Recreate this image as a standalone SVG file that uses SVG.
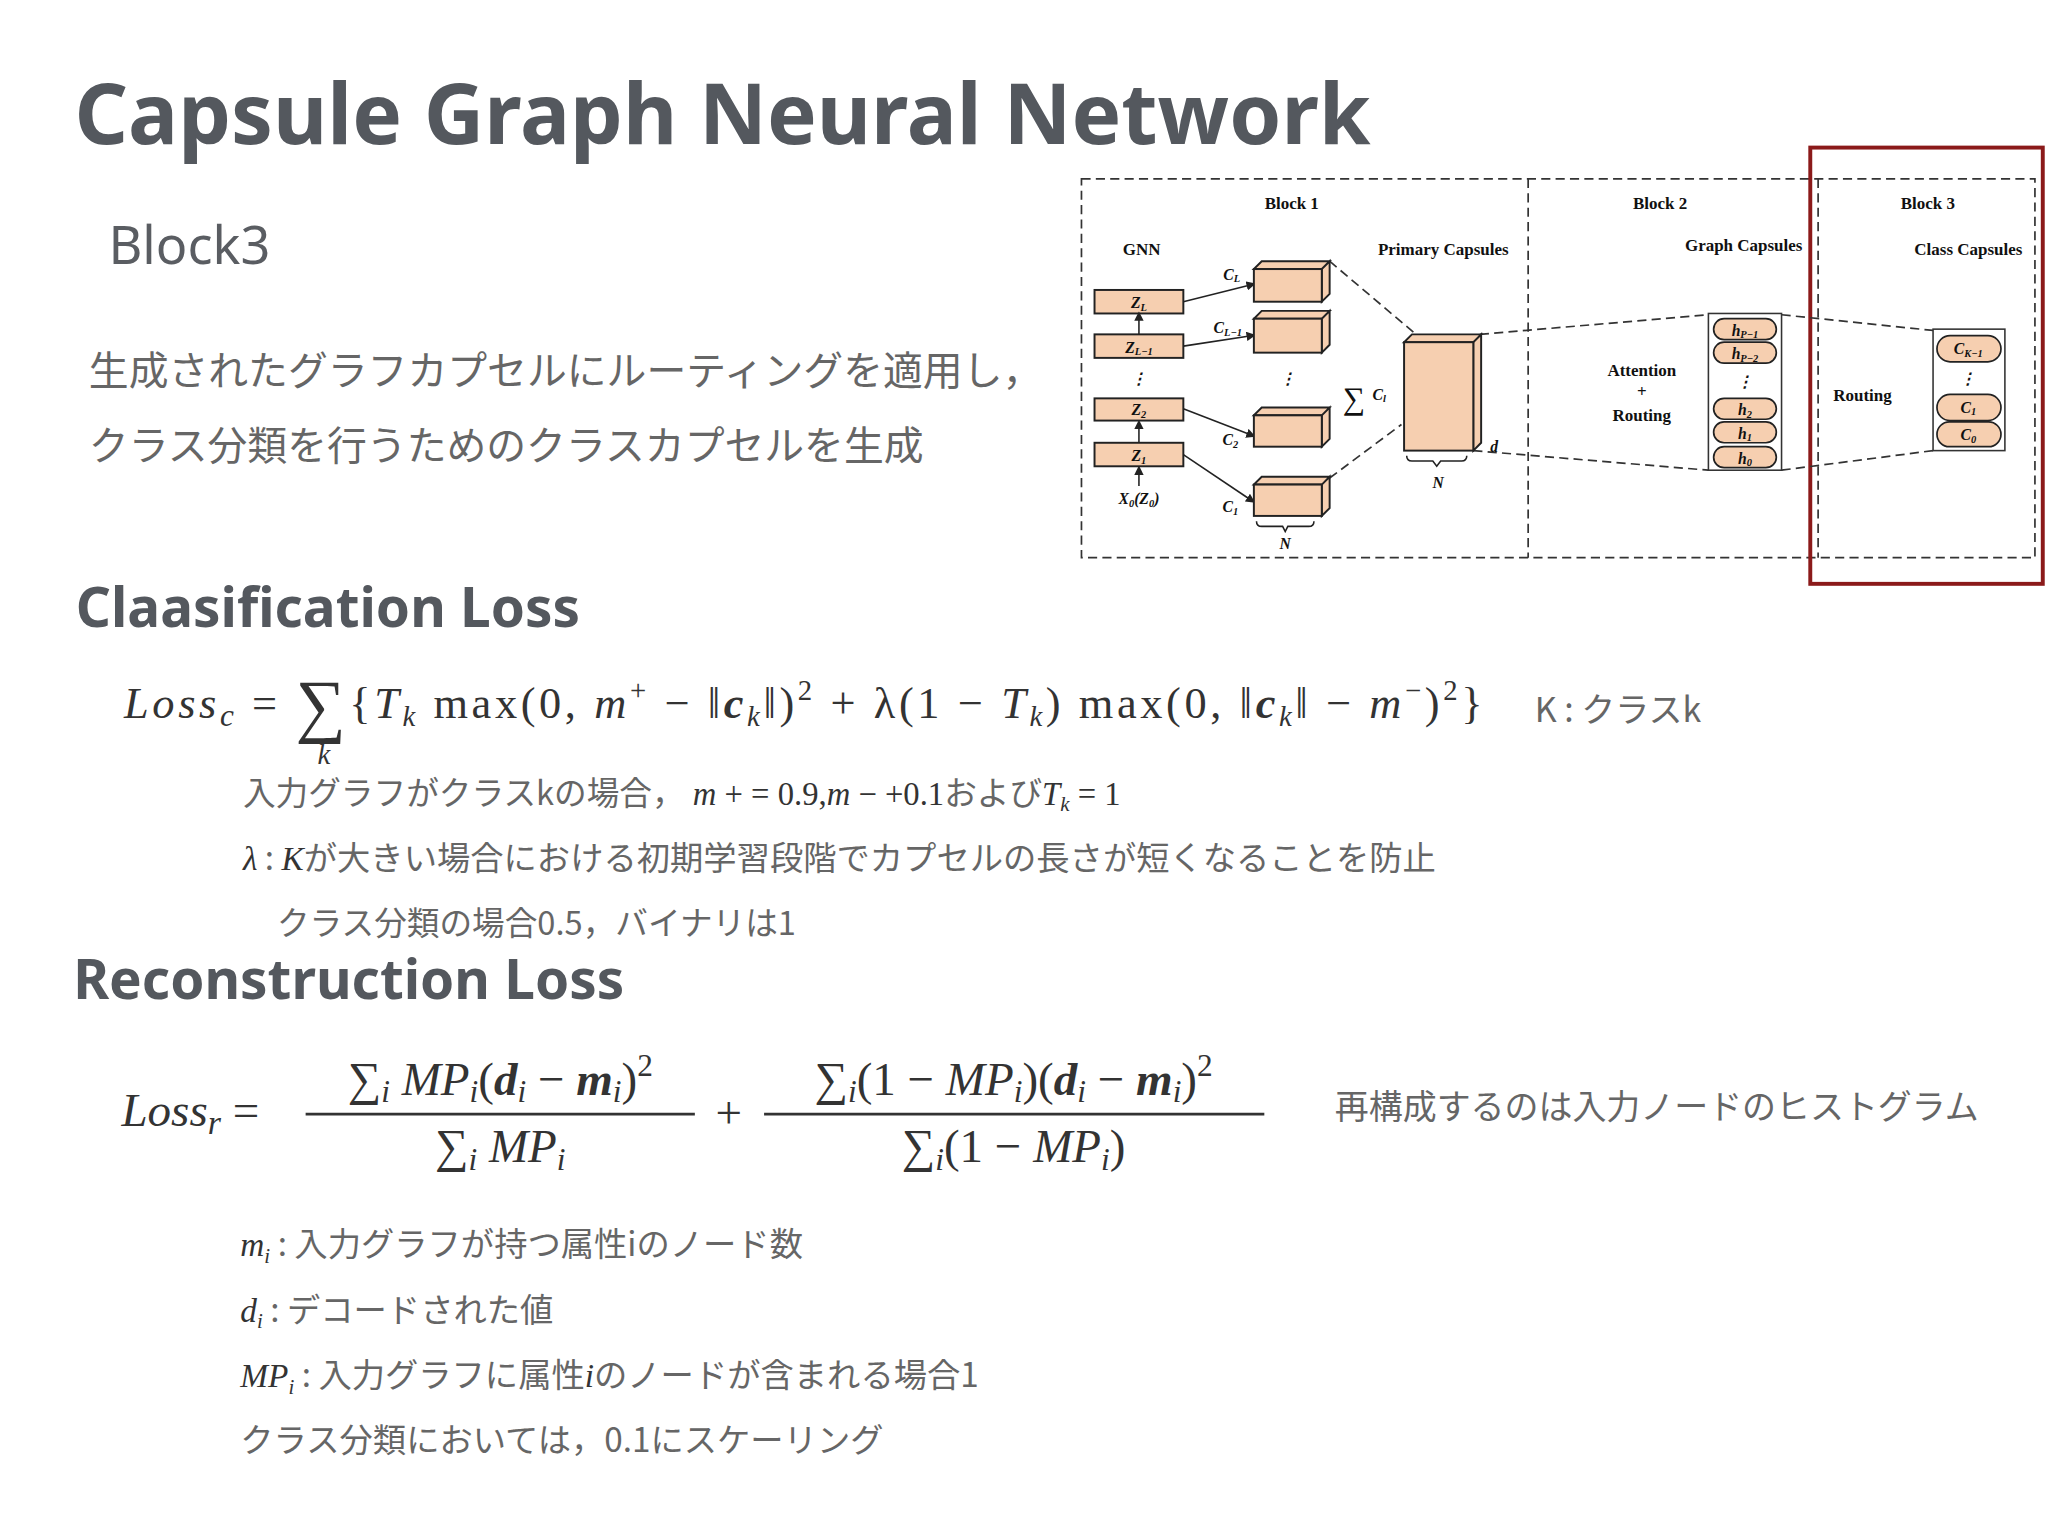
<svg xmlns="http://www.w3.org/2000/svg" width="2048" height="1536" viewBox="0 0 2048 1536">
<style>
.t{font-family:"Noto Sans","Noto Sans CJK JP",sans-serif;fill:#5a5d62}
.h{font-family:"Noto Sans","Noto Sans CJK JP",sans-serif;font-weight:bold;fill:#54585e}
.j{font-family:"Noto Sans CJK JP",sans-serif;fill:#666}
.m{font-family:"Liberation Serif",serif;fill:#333}
.s{font-family:"Liberation Serif",serif;font-weight:bold;font-size:13px;fill:#111}
.si{font-family:"Liberation Serif",serif;font-weight:bold;font-style:italic;font-size:12px;fill:#111;text-anchor:middle}
.dash{fill:none;stroke:#333;stroke-width:1.3;stroke-dasharray:7 4}
.box{fill:#f6cfb0;stroke:#222;stroke-width:1.5}
.ln{stroke:#222;stroke-width:1.2;fill:none}
.pill{fill:#f6cfb0;stroke:#222;stroke-width:1.3}
</style>
<defs><marker id="ar" markerWidth="6" markerHeight="6" refX="3" refY="3" orient="auto"><path d="M0,0L6,3L0,6z" fill="#222"/></marker></defs>
<rect width="2048" height="1536" fill="#fff"/>
<g transform="scale(1.30612)">
<text class="h" x="57" y="110" font-size="64">Capsule Graph Neural Network</text>
<text class="t" x="83" y="202" font-size="40">Block3</text>
<text class="j" x="68" y="295" font-size="30.5">生成されたグラフカプセルにルーティングを適用し，</text>
<text class="j" x="68" y="352" font-size="30.5">クラス分類を行うためのクラスカプセルを生成</text>

<g id="frame">
<rect class="dash" x="828" y="137" width="730" height="290"/>
<line class="dash" x1="1170" y1="137" x2="1170" y2="427"/>
<line class="dash" x1="1392" y1="137" x2="1392" y2="427"/>
<rect x="1386" y="113" width="178" height="334" fill="none" stroke="#8b1a1a" stroke-width="3"/>
<text class="s" x="989" y="160" text-anchor="middle">Block 1</text>
<text class="s" x="1271" y="160" text-anchor="middle">Block 2</text>
<text class="s" x="1476" y="160" text-anchor="middle">Block 3</text>
<text class="s" x="874" y="195" text-anchor="middle">GNN</text>
<text class="s" x="1105" y="195" text-anchor="middle">Primary Capsules</text>
<text class="s" x="1335" y="192" text-anchor="middle">Graph Capsules</text>
<text class="s" x="1507" y="195" text-anchor="middle">Class Capsules</text>
<text class="s" x="1257" y="288" text-anchor="middle">Attention</text>
<text class="s" x="1257" y="304" text-anchor="middle">+</text>
<text class="s" x="1257" y="322" text-anchor="middle">Routing</text>
<text class="s" x="1426" y="307" text-anchor="middle">Routing</text>
</g>
<g id="gnn">
<rect class="box" x="838" y="222" width="68" height="18"/><text class="si" x="872" y="236">Z<tspan font-size="8" dy="2">L</tspan></text>
<rect class="box" x="838" y="256" width="68" height="18"/><text class="si" x="872" y="270">Z<tspan font-size="8" dy="2">L−1</tspan></text>
<text class="si" x="872" y="294">⋮</text>
<rect class="box" x="838" y="305" width="68" height="17"/><text class="si" x="872" y="318">Z<tspan font-size="8" dy="2">2</tspan></text>
<rect class="box" x="838" y="339" width="68" height="18"/><text class="si" x="872" y="353">Z<tspan font-size="8" dy="2">1</tspan></text>
<text class="si" x="872" y="386">X<tspan font-size="8" dy="2">0</tspan><tspan dy="-2">(Z</tspan><tspan font-size="8" dy="2">0</tspan><tspan dy="-2">)</tspan></text>
</g>
<g id="connectors">
<line class="ln" x1="872" y1="256" x2="872" y2="242" marker-end="url(#ar)"/>
<line class="ln" x1="872" y1="339" x2="872" y2="325" marker-end="url(#ar)"/>
<line class="ln" x1="872" y1="372" x2="872" y2="360" marker-end="url(#ar)"/>
<line class="ln" x1="906" y1="231" x2="958" y2="218" marker-end="url(#ar)"/>
<line class="ln" x1="906" y1="265" x2="958" y2="257" marker-end="url(#ar)"/>
<line class="ln" x1="906" y1="313" x2="958" y2="333" marker-end="url(#ar)"/>
<line class="ln" x1="906" y1="348" x2="958" y2="383" marker-end="url(#ar)"/>
<line class="dash" x1="1018" y1="200" x2="1083" y2="255"/>
<line class="dash" x1="1018" y1="366" x2="1073" y2="325"/>
<line class="dash" x1="1133" y1="256" x2="1308" y2="241"/>
<line class="dash" x1="1128" y1="345" x2="1308" y2="360"/>
<line class="dash" x1="1364" y1="241" x2="1480" y2="253"/>
<line class="dash" x1="1364" y1="360" x2="1480" y2="345"/>
</g>
<g id="primary">
<g id="capL"><path class="box" d="M960,206h52l6,-6h-52z M1012,206l6,-6v25l-6,6z"/><rect class="box" x="960" y="206" width="52" height="25"/><text class="si" x="943" y="214">C<tspan font-size="8" dy="2">L</tspan></text></g>
<g id="capL1"><path class="box" d="M960,244h52l6,-6h-52z M1012,244l6,-6v26l-6,6z"/><rect class="box" x="960" y="244" width="52" height="26"/><text class="si" x="940" y="255">C<tspan font-size="8" dy="2">L−1</tspan></text></g>
<text class="si" x="986" y="294">⋮</text>
<g id="cap2"><path class="box" d="M960,318h52l6,-6h-52z M1012,318l6,-6v24l-6,6z"/><rect class="box" x="960" y="318" width="52" height="24"/><text class="si" x="942" y="341">C<tspan font-size="8" dy="2">2</tspan></text></g>
<g id="cap1"><path class="box" d="M960,371h52l6,-6h-52z M1012,371l6,-6v24l-6,6z"/><rect class="box" x="960" y="371" width="52" height="24"/><text class="si" x="942" y="392">C<tspan font-size="8" dy="2">1</tspan></text></g>
<path class="ln" d="M962,399q0,4 4,4h16l2,4l2,-4h16q4,0 4,-4"/>
<text class="si" x="984" y="420">N</text>
<g id="bigcap"><path class="box" d="M1075,262h53l6,-6h-53z M1128,262l6,-6v83l-6,6z"/><rect class="box" x="1075" y="262" width="53" height="83"/></g>
<text x="1028" y="313" font-family="Liberation Serif,serif" font-size="24" fill="#111">∑</text>
<text class="si" x="1056" y="306">C<tspan font-size="8" dy="2">l</tspan></text>
<text class="si" x="1144" y="346">d</text>
<path class="ln" d="M1077,349q0,4 4,4h16l3,4l3,-4h16q4,0 4,-4"/>
<text class="si" x="1101" y="374">N</text>
</g>
<g id="graphcaps">
<rect x="1308" y="240" width="56" height="120" fill="#fff" stroke="#333" stroke-width="1.2"/>
<rect class="pill" x="1312" y="244" width="48" height="16" rx="8"/><text class="si" x="1336" y="257">h<tspan font-size="8" dy="2">P−1</tspan></text>
<rect class="pill" x="1312" y="262" width="48" height="16" rx="8"/><text class="si" x="1336" y="275">h<tspan font-size="8" dy="2">P−2</tspan></text>
<text class="si" x="1336" y="296">⋮</text>
<rect class="pill" x="1312" y="305" width="48" height="16" rx="8"/><text class="si" x="1336" y="318">h<tspan font-size="8" dy="2">2</tspan></text>
<rect class="pill" x="1312" y="323" width="48" height="16" rx="8"/><text class="si" x="1336" y="336">h<tspan font-size="8" dy="2">1</tspan></text>
<rect class="pill" x="1312" y="342" width="48" height="16" rx="8"/><text class="si" x="1336" y="355">h<tspan font-size="8" dy="2">0</tspan></text>
</g>
<g id="classcaps">
<rect x="1480" y="252" width="55" height="93" fill="#fff" stroke="#333" stroke-width="1.2"/>
<rect class="pill" x="1483" y="257" width="49" height="20" rx="10"/><text class="si" x="1507" y="271">C<tspan font-size="8" dy="2">K−1</tspan></text>
<text class="si" x="1507" y="294">⋮</text>
<rect class="pill" x="1483" y="302" width="49" height="20" rx="10"/><text class="si" x="1507" y="316">C<tspan font-size="8" dy="2">1</tspan></text>
<rect class="pill" x="1483" y="323" width="49" height="19" rx="9.5"/><text class="si" x="1507" y="337">C<tspan font-size="8" dy="2">0</tspan></text>
</g>

<text class="h" x="58" y="480" font-size="42">Claasification Loss</text>
<text class="m" x="95" y="550" font-size="34" textLength="1040" lengthAdjust="spacing"><tspan font-style="italic">Loss</tspan><tspan font-style="italic" font-size="24" dy="6">c</tspan><tspan dy="-6"> = </tspan><tspan font-size="54" dy="8">∑</tspan><tspan dy="-8">{</tspan><tspan font-style="italic">T</tspan><tspan font-style="italic" font-size="22" dy="6">k</tspan><tspan dy="-6"> max(0, </tspan><tspan font-style="italic">m</tspan><tspan font-size="22" dy="-14">+</tspan><tspan dy="14"> − ‖</tspan><tspan font-style="italic" font-weight="bold">c</tspan><tspan font-style="italic" font-size="22" dy="6">k</tspan><tspan dy="-6">‖)</tspan><tspan font-size="22" dy="-14">2</tspan><tspan dy="14"> + λ(1 − </tspan><tspan font-style="italic">T</tspan><tspan font-style="italic" font-size="22" dy="6">k</tspan><tspan dy="-6">) max(0, ‖</tspan><tspan font-style="italic" font-weight="bold">c</tspan><tspan font-style="italic" font-size="22" dy="6">k</tspan><tspan dy="-6">‖ − </tspan><tspan font-style="italic">m</tspan><tspan font-size="22" dy="-14">−</tspan><tspan dy="14">)</tspan><tspan font-size="22" dy="-14">2</tspan><tspan dy="14">}</tspan></text>
<text class="m" x="243" y="585" font-size="22" font-style="italic">k</text>
<text class="j" x="1175" y="553" font-size="26">K : クラスk</text>
<text class="j" x="186" y="616" font-size="25">入力グラフがクラスkの場合，<tspan class="m" font-style="italic"> m</tspan><tspan class="m"> + = 0.9,</tspan><tspan class="m" font-style="italic">m</tspan><tspan class="m"> − +0.1</tspan>および<tspan class="m" font-style="italic">T</tspan><tspan class="m" font-style="italic" font-size="16" dy="5">k</tspan><tspan class="m" dy="-5"> = 1</tspan></text>
<text class="j" x="186" y="666" font-size="25.5"><tspan class="m" font-style="italic">λ</tspan> : <tspan class="m" font-style="italic">K</tspan>が大きい場合における初期学習段階でカプセルの長さが短くなることを防止</text>
<text class="j" x="212" y="716" font-size="25">クラス分類の場合0.5，バイナリは1</text>

<text class="h" x="56" y="765" font-size="42">Reconstruction Loss</text>
<text class="m" x="93" y="862" font-size="36"><tspan font-style="italic">Loss</tspan><tspan font-style="italic" font-size="26" dy="6">r</tspan><tspan dy="-6"> =</tspan></text>
<text class="m" x="383" y="838" font-size="36" text-anchor="middle">∑<tspan font-style="italic" font-size="24" dy="6">i</tspan><tspan font-style="italic" dy="-6"> MP</tspan><tspan font-style="italic" font-size="24" dy="6">i</tspan><tspan dy="-6">(</tspan><tspan font-weight="bold" font-style="italic">d</tspan><tspan font-style="italic" font-size="24" dy="6">i</tspan><tspan dy="-6"> − </tspan><tspan font-weight="bold" font-style="italic">m</tspan><tspan font-style="italic" font-size="24" dy="6">i</tspan><tspan dy="-6">)</tspan><tspan font-size="24" dy="-14">2</tspan></text>
<line x1="234" y1="853" x2="532" y2="853" stroke="#333" stroke-width="2"/>
<text class="m" x="383" y="890" font-size="36" text-anchor="middle">∑<tspan font-style="italic" font-size="24" dy="6">i</tspan><tspan font-style="italic" dy="-6"> MP</tspan><tspan font-style="italic" font-size="24" dy="6">i</tspan></text>
<text class="m" x="558" y="864" font-size="36" text-anchor="middle">+</text>
<text class="m" x="776" y="838" font-size="36" text-anchor="middle">∑<tspan font-style="italic" font-size="24" dy="6">i</tspan><tspan dy="-6">(1 − </tspan><tspan font-style="italic">MP</tspan><tspan font-style="italic" font-size="24" dy="6">i</tspan><tspan dy="-6">)(</tspan><tspan font-weight="bold" font-style="italic">d</tspan><tspan font-style="italic" font-size="24" dy="6">i</tspan><tspan dy="-6"> − </tspan><tspan font-weight="bold" font-style="italic">m</tspan><tspan font-style="italic" font-size="24" dy="6">i</tspan><tspan dy="-6">)</tspan><tspan font-size="24" dy="-14">2</tspan></text>
<line x1="585" y1="853" x2="968" y2="853" stroke="#333" stroke-width="2"/>
<text class="m" x="776" y="890" font-size="36" text-anchor="middle">∑<tspan font-style="italic" font-size="24" dy="6">i</tspan><tspan dy="-6">(1 − </tspan><tspan font-style="italic">MP</tspan><tspan font-style="italic" font-size="24" dy="6">i</tspan><tspan dy="-6">)</tspan></text>
<text class="j" x="1022" y="857" font-size="26">再構成するのは入力ノードのヒストグラム</text>
<text class="j" x="184" y="962" font-size="25.5"><tspan class="m" font-style="italic">m</tspan><tspan class="m" font-style="italic" font-size="16" dy="5">i</tspan><tspan dy="-5"> : 入力グラフが持つ属性iのノード数</tspan></text>
<text class="j" x="184" y="1012" font-size="25.5"><tspan class="m" font-style="italic">d</tspan><tspan class="m" font-style="italic" font-size="16" dy="5">i</tspan><tspan dy="-5"> : デコードされた値</tspan></text>
<text class="j" x="184" y="1062" font-size="25.5"><tspan class="m" font-style="italic">MP</tspan><tspan class="m" font-style="italic" font-size="16" dy="5">i</tspan><tspan dy="-5"> : 入力グラフに属性</tspan><tspan class="m" font-style="italic">i</tspan>のノードが含まれる場合1</text>
<text class="j" x="184" y="1112" font-size="25.5">クラス分類においては，0.1にスケーリング</text>
</g>
</svg>
